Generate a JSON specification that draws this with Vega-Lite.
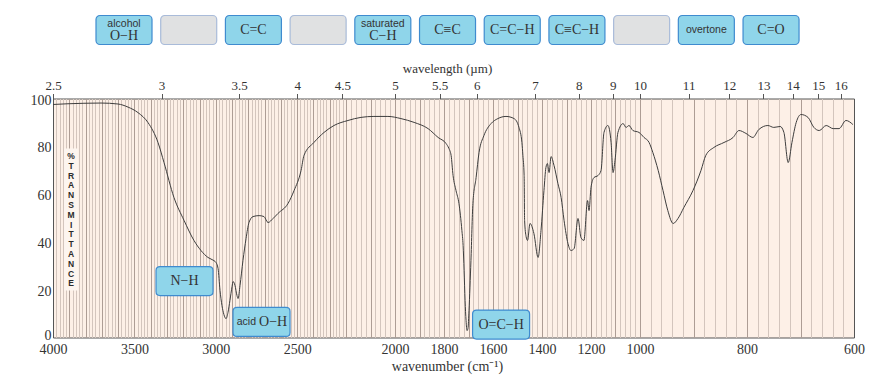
{
  "$schema": "https://vega.github.io/schema/vega-lite/v6.json",
  "autosize": {"type": "pad"},
  "padding": {"left": 29, "top": 14.5, "right": 10, "bottom": 6},
  "background": "white",
  "bounds": "flush",
  "spacing": 54,
  "datasets": {
    "boxes": [
      {"n": 1, "small": "alcohol", "main": "O−H", "kind": "label"},
      {"n": 2, "kind": "blank"},
      {"n": 3, "main": "C=C", "kind": "label"},
      {"n": 4, "kind": "blank"},
      {"n": 5, "small": "saturated", "main": "C−H", "kind": "label"},
      {"n": 6, "main": "C≡C", "kind": "label"},
      {"n": 7, "main": "C=C−H", "kind": "label"},
      {"n": 8, "main": "C≡C−H", "kind": "label"},
      {"n": 9, "kind": "blank"},
      {"n": 10, "small": "overtone", "kind": "label"},
      {"n": 11, "main": "C=O", "kind": "label"}
    ],
    "ylabel": [
      {"wn": 3889, "t": 49.4, "label": "%\nT\nR\nA\nN\nS\nM\nI\nT\nT\nA\nN\nC\nE"}
    ],
    "notes": [
      {"wn": 3192, "t": 23.6, "main": "N−H"},
      {"wn": 2719, "t": 6.5, "small": "acid", "main": "O−H"},
      {"wn": 1567, "t": 5.4, "main": "O=C−H"}
    ],
    "spectrum": [
      {"wn": 4000, "t": 97.5}, {"wn": 3908, "t": 97.8}, {"wn": 3810, "t": 98.0}, {"wn": 3705, "t": 98.1},
      {"wn": 3601, "t": 97.7}, {"wn": 3539, "t": 96.4}, {"wn": 3478, "t": 94.1}, {"wn": 3416, "t": 89.9},
      {"wn": 3355, "t": 81.6}, {"wn": 3318, "t": 73.2}, {"wn": 3257, "t": 58.6}, {"wn": 3195, "t": 49.0},
      {"wn": 3134, "t": 40.6}, {"wn": 3091, "t": 36.4}, {"wn": 3048, "t": 33.5}, {"wn": 3023, "t": 32.6},
      {"wn": 2999, "t": 31.4}, {"wn": 2986, "t": 28.9}, {"wn": 2974, "t": 19.7}, {"wn": 2962, "t": 13.4},
      {"wn": 2950, "t": 9.6}, {"wn": 2937, "t": 7.9}, {"wn": 2925, "t": 10.5}, {"wn": 2913, "t": 15.5},
      {"wn": 2900, "t": 21.3}, {"wn": 2894, "t": 23.4}, {"wn": 2882, "t": 21.8}, {"wn": 2870, "t": 17.6},
      {"wn": 2863, "t": 16.3}, {"wn": 2851, "t": 21.8}, {"wn": 2833, "t": 32.2}, {"wn": 2814, "t": 41.4},
      {"wn": 2796, "t": 48.1}, {"wn": 2771, "t": 50.6}, {"wn": 2734, "t": 51.0}, {"wn": 2704, "t": 50.6},
      {"wn": 2679, "t": 48.1}, {"wn": 2648, "t": 49.8}, {"wn": 2618, "t": 51.9}, {"wn": 2556, "t": 56.1},
      {"wn": 2519, "t": 61.5}, {"wn": 2476, "t": 69.9}, {"wn": 2458, "t": 76.2}, {"wn": 2397, "t": 81.6},
      {"wn": 2335, "t": 85.8}, {"wn": 2274, "t": 88.7}, {"wn": 2192, "t": 90.8}, {"wn": 2139, "t": 92.1},
      {"wn": 2086, "t": 92.5}, {"wn": 2029, "t": 92.5}, {"wn": 1976, "t": 91.6}, {"wn": 1922, "t": 90.0},
      {"wn": 1865, "t": 87.4}, {"wn": 1824, "t": 83.7}, {"wn": 1792, "t": 81.2}, {"wn": 1780, "t": 79.1},
      {"wn": 1771, "t": 76.2}, {"wn": 1763, "t": 67.8}, {"wn": 1751, "t": 61.5}, {"wn": 1739, "t": 56.1},
      {"wn": 1727, "t": 44.8}, {"wn": 1722, "t": 38.5}, {"wn": 1718, "t": 28.0}, {"wn": 1714, "t": 15.5},
      {"wn": 1710, "t": 7.1}, {"wn": 1706, "t": 2.9}, {"wn": 1702, "t": 3.8}, {"wn": 1698, "t": 11.3},
      {"wn": 1690, "t": 32.2}, {"wn": 1682, "t": 56.1}, {"wn": 1669, "t": 66.9}, {"wn": 1657, "t": 77.4},
      {"wn": 1637, "t": 84.5}, {"wn": 1608, "t": 89.5}, {"wn": 1580, "t": 91.6}, {"wn": 1547, "t": 92.5},
      {"wn": 1514, "t": 91.6}, {"wn": 1494, "t": 87.9}, {"wn": 1482, "t": 81.6}, {"wn": 1478, "t": 76.2},
      {"wn": 1473, "t": 67.8}, {"wn": 1471, "t": 49.0}, {"wn": 1465, "t": 42.3}, {"wn": 1459, "t": 40.6},
      {"wn": 1449, "t": 47.7}, {"wn": 1433, "t": 43.5}, {"wn": 1416, "t": 33.5}, {"wn": 1404, "t": 44.8},
      {"wn": 1392, "t": 61.5}, {"wn": 1384, "t": 71.1}, {"wn": 1378, "t": 72.8}, {"wn": 1371, "t": 69.0},
      {"wn": 1363, "t": 75.7}, {"wn": 1351, "t": 72.0}, {"wn": 1335, "t": 64.4}, {"wn": 1322, "t": 58.6},
      {"wn": 1310, "t": 49.0}, {"wn": 1294, "t": 39.3}, {"wn": 1282, "t": 36.4}, {"wn": 1269, "t": 37.2},
      {"wn": 1253, "t": 49.8}, {"wn": 1241, "t": 41.8}, {"wn": 1229, "t": 40.6}, {"wn": 1214, "t": 57.3},
      {"wn": 1208, "t": 53.1}, {"wn": 1200, "t": 62.8}, {"wn": 1188, "t": 66.9}, {"wn": 1171, "t": 67.8},
      {"wn": 1159, "t": 69.9}, {"wn": 1147, "t": 85.8}, {"wn": 1131, "t": 88.7}, {"wn": 1118, "t": 81.6},
      {"wn": 1110, "t": 69.0}, {"wn": 1102, "t": 74.1}, {"wn": 1090, "t": 85.8}, {"wn": 1069, "t": 89.5},
      {"wn": 1057, "t": 87.9}, {"wn": 1045, "t": 88.7}, {"wn": 1029, "t": 86.6}, {"wn": 1004, "t": 85.8},
      {"wn": 992.5, "t": 83.7}, {"wn": 983, "t": 81.6}, {"wn": 976, "t": 77.4}, {"wn": 966, "t": 69.9},
      {"wn": 957, "t": 61.5}, {"wn": 948, "t": 53.1}, {"wn": 938, "t": 47.7}, {"wn": 929, "t": 49.8},
      {"wn": 918, "t": 54.4}, {"wn": 901, "t": 61.5}, {"wn": 886, "t": 69.9}, {"wn": 877, "t": 76.2},
      {"wn": 862, "t": 79.5}, {"wn": 843, "t": 81.6}, {"wn": 826, "t": 83.7}, {"wn": 815, "t": 86.6},
      {"wn": 802, "t": 85.4}, {"wn": 789, "t": 83.7}, {"wn": 778, "t": 87.0}, {"wn": 761, "t": 88.7},
      {"wn": 750, "t": 87.9}, {"wn": 738, "t": 88.3}, {"wn": 731, "t": 85.8}, {"wn": 723, "t": 73.2},
      {"wn": 716, "t": 81.6}, {"wn": 708, "t": 90.0}, {"wn": 699, "t": 93.3}, {"wn": 686, "t": 92.1},
      {"wn": 675, "t": 87.9}, {"wn": 665, "t": 86.6}, {"wn": 652, "t": 88.7}, {"wn": 639, "t": 87.4},
      {"wn": 628, "t": 87.4}, {"wn": 615, "t": 90.8}, {"wn": 602, "t": 89.1}
    ]
  },
  "vconcat": [
    {
      "width": 801,
      "height": 29,
      "view": {"stroke": null},
      "data": {"name": "boxes"},
      "encoding": {
        "x": {"field": "n", "type": "ordinal", "axis": null,
              "scale": {"paddingInner": 0.1345, "paddingOuter": 0.757, "align": 0.439}}
      },
      "layer": [
        {
          "mark": {"type": "rect", "cornerRadius": 4, "strokeWidth": 1.2},
          "encoding": {
            "fill": {"field": "kind", "type": "nominal", "legend": null,
                     "scale": {"domain": ["label", "blank"], "range": ["#8fd5ea", "#e0e1e2"]}},
            "stroke": {"field": "kind", "type": "nominal", "legend": null,
                       "scale": {"domain": ["label", "blank"], "range": ["#3f8bcf", "#a9bbd9"]}}
          }
        },
        {
          "transform": [{"filter": "datum.small && datum.main"}],
          "mark": {"type": "text", "font": "Liberation Sans", "fontSize": 10.5, "dy": -6.5, "color": "#333333"},
          "encoding": {"text": {"field": "small", "type": "nominal"}}
        },
        {
          "transform": [{"filter": "datum.small && datum.main"}],
          "mark": {"type": "text", "font": "Liberation Serif", "fontSize": 14, "dy": 5.5, "color": "#333333"},
          "encoding": {"text": {"field": "main", "type": "nominal"}}
        },
        {
          "transform": [{"filter": "datum.main && !datum.small"}],
          "mark": {"type": "text", "font": "Liberation Serif", "fontSize": 14, "color": "#333333"},
          "encoding": {"text": {"field": "main", "type": "nominal"}}
        },
        {
          "transform": [{"filter": "datum.small && !datum.main"}],
          "mark": {"type": "text", "font": "Liberation Sans", "fontSize": 10.5, "color": "#333333"},
          "encoding": {"text": {"field": "small", "type": "nominal"}}
        }
      ]
    },
    {
      "width": 801,
      "height": 239,
      "view": {"fill": "#fdf0e7", "stroke": "#555555", "strokeWidth": 1},
      "resolve": {"axis": {"x": "independent", "y": "independent"}},
      "layer": [
        {
          "data": {"name": "ylabel"},
          "mark": {"type": "point", "shape": "M-7,-71 H7 V71 H-7 Z", "size": 4, "filled": true, "fill": "#fdf5ef", "strokeWidth": 0, "opacity": 1},
          "encoding": {
            "x": {"field": "wn", "type": "quantitative",
                  "scale": {"type": "linear", "domain": [4000, 2200, 1000, 600], "range": [0, 293, 587, 801], "nice": false, "zero": false},
                  "axis": {"grid": true, "gridColor": "#d3c5bd", "gridWidth": 1, "gridOpacity": 1, "labels": false, "ticks": false, "domain": false, "title": null,
                           "values": [620,640,660,680,720,740,760,780,820,840,860,880,920,940,960,980,1020,1040,1060,1080,1120,1140,1160,1180,1220,1240,1260,1280,1320,1340,1360,1380,1420,1440,1460,1480,1520,1540,1560,1580,1620,1640,1660,1680,1720,1740,1760,1780,1820,1840,1860,1880,1920,1940,1960,1980,2020,2040,2060,2080,2120,2140,2160,2180,2220,2240,2260,2280,2320,2340,2360,2380,2420,2440,2460,2480,2520,2540,2560,2580,2620,2640,2660,2680,2720,2740,2760,2780,2820,2840,2860,2880,2920,2940,2960,2980,3020,3040,3060,3080,3120,3140,3160,3180,3220,3240,3260,3280,3320,3340,3360,3380,3420,3440,3460,3480,3520,3540,3560,3580,3620,3640,3660,3680,3720,3740,3760,3780,3820,3840,3860,3880,3920,3940,3960,3980]}},
            "y": {"field": "t", "type": "quantitative", "scale": {"domain": [0, 100], "nice": false},
                  "axis": {"orient": "left", "values": [20, 40, 60, 80, 100], "grid": false, "ticks": false, "domain": false, "labels": true, "labelPadding": 2,
                           "labelFont": "Liberation Serif", "labelFontSize": 14, "labelColor": "#333333", "labelOffset": 1.5, "title": null}}
          }
        },
        {
          "data": {"name": "ylabel"},
          "mark": {"type": "text", "font": "Liberation Sans", "fontWeight": "bold", "fontSize": 8.5, "lineBreak": "\n", "lineHeight": 9.8, "baseline": "top", "align": "center", "dy": -67.5, "color": "#2b2b2b"},
          "encoding": {
            "x": {"field": "wn", "type": "quantitative",
                  "scale": {"type": "linear", "domain": [4000, 2200, 1000, 600], "range": [0, 293, 587, 801], "nice": false, "zero": false},
                  "axis": {"grid": true, "gridColor": "#ad9d95", "gridWidth": 1, "gridOpacity": 1, "labels": false, "ticks": false, "domain": false, "title": null,
                           "values": [700,800,900,1000,1100,1200,1300,1400,1500,1600,1700,1800,1900,2000,2100,2200,2300,2400,2500,2600,2700,2800,2900,3000,3100,3200,3300,3400,3500,3600,3700,3800,3900]}},
            "y": {"field": "t", "type": "quantitative", "scale": {"domain": [0, 100], "nice": false},
                  "axis": {"orient": "left", "values": [0], "grid": false, "ticks": false, "domain": false, "labels": true, "labelPadding": 2,
                           "labelFont": "Liberation Serif", "labelFontSize": 14, "labelColor": "#333333", "labelOffset": -2.5, "title": null}},
            "text": {"field": "label", "type": "nominal"}
          }
        },
        {
          "data": {"name": "spectrum"},
          "mark": {"type": "line", "interpolate": "monotone", "color": "#3d3d3d", "strokeWidth": 1},
          "encoding": {
            "x": {"field": "wn", "type": "quantitative",
                  "scale": {"type": "linear", "domain": [4000, 2200, 1000, 600], "range": [0, 293, 587, 801], "nice": false, "zero": false},
                  "axis": {"orient": "bottom", "values": [4000, 3500, 3000, 2500, 2000, 1800, 1600, 1400, 1200, 1000, 800, 600], "format": "d",
                           "grid": false, "ticks": false, "domain": false, "labelPadding": 5, "labelFont": "Liberation Serif", "labelFontSize": 14,
                           "labelColor": "#333333", "labelOverlap": false, "labelFlush": false,
                           "title": "wavenumber (cm⁻¹)", "titleFont": "Liberation Serif", "titleFontSize": 14, "titleFontWeight": "normal",
                           "titleColor": "#333333", "titlePadding": 3, "titleX": 394}},
            "y": {"field": "t", "type": "quantitative", "scale": {"domain": [0, 100], "nice": false}, "axis": null}
          }
        },
        {
          "data": {"name": "notes"},
          "mark": {"type": "point", "shape": "M-24.5,-14.5 H24.5 Q28.5,-14.5 28.5,-10.5 V10.5 Q28.5,14.5 24.5,14.5 H-24.5 Q-28.5,14.5 -28.5,10.5 V-10.5 Q-28.5,-14.5 -24.5,-14.5 Z",
                   "size": 4, "filled": true, "fill": "#8fd5ea", "stroke": "#3f8bcf", "strokeWidth": 1.2, "opacity": 1},
          "encoding": {
            "x": {"field": "wn", "type": "quantitative",
                  "scale": {"type": "linear", "domain": [4000, 2200, 1000, 600], "range": [0, 293, 587, 801], "nice": false, "zero": false},
                  "axis": {"orient": "top", "values": [4000, 3333.333, 2857.143, 2500, 2222.222, 2000, 1818.182, 1666.667, 1428.571, 1250, 1111.111, 1000, 909.091, 833.333, 769.231, 714.286, 666.667, 625],
                           "labelExpr": "format(10000 / datum.value, '.1~f')",
                           "grid": false, "ticks": true, "tickSize": 5, "tickColor": "#555555", "tickWidth": 1, "domain": false,
                           "labelPadding": 1, "labelFont": "Liberation Serif", "labelFontSize": 13, "labelColor": "#333333",
                           "labelOverlap": false, "labelFlush": false,
                           "title": "wavelength (µm)", "titleFont": "Liberation Serif", "titleFontSize": 13, "titleFontWeight": "normal",
                           "titleColor": "#333333", "titlePadding": 4, "titleX": 394}},
            "y": {"field": "t", "type": "quantitative", "scale": {"domain": [0, 100], "nice": false}, "axis": null}
          }
        },
        {
          "data": {"name": "notes"},
          "transform": [{"filter": "!datum.small"}],
          "mark": {"type": "text", "font": "Liberation Serif", "fontSize": 14, "align": "center", "color": "#333333"},
          "encoding": {
            "x": {"field": "wn", "type": "quantitative", "axis": null},
            "y": {"field": "t", "type": "quantitative", "axis": null},
            "text": {"field": "main", "type": "nominal"}
          }
        },
        {
          "data": {"name": "notes"},
          "transform": [{"filter": "datum.small"}],
          "mark": {"type": "text", "font": "Liberation Serif", "fontSize": 14, "align": "left", "dx": -2.5, "color": "#333333"},
          "encoding": {
            "x": {"field": "wn", "type": "quantitative", "axis": null},
            "y": {"field": "t", "type": "quantitative", "axis": null},
            "text": {"field": "main", "type": "nominal"}
          }
        },
        {
          "data": {"name": "notes"},
          "transform": [{"filter": "datum.small"}],
          "mark": {"type": "text", "font": "Liberation Sans", "fontSize": 10.5, "align": "right", "dx": -5.5, "color": "#333333"},
          "encoding": {
            "x": {"field": "wn", "type": "quantitative", "axis": null},
            "y": {"field": "t", "type": "quantitative", "axis": null},
            "text": {"field": "small", "type": "nominal"}
          }
        }
      ]
    }
  ]
}
